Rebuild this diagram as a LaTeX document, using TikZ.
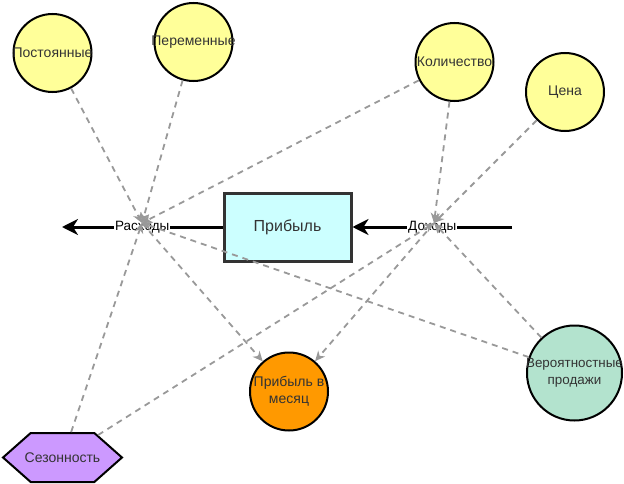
\documentclass[tikz,border=0pt]{standalone}
\usepackage{fontspec}
\setmainfont{Liberation Sans}
\usetikzlibrary{arrows.meta,shapes.symbols}
\definecolor{cyel}{HTML}{FFFF99}
\definecolor{ccyan}{HTML}{CCFFFF}
\definecolor{corange}{HTML}{FF9900}
\definecolor{cgreen}{HTML}{B3E3CE}
\definecolor{cpurple}{HTML}{CC99FF}
\definecolor{cgray}{HTML}{999999}
\definecolor{ctext}{HTML}{333333}
\begin{document}
\begin{tikzpicture}[x=1pt,y=-1pt,
  factor/.style={circle, draw=black, line width=2pt, fill=cyel, minimum size=78pt, inner sep=0pt, text=ctext, font=\fontsize{14}{17}\selectfont},
  dep/.style={draw=cgray, line width=1.8pt, dash pattern=on 6pt off 5pt, -{Stealth[length=10pt,width=9pt,inset=3pt]}},
  flow/.style={draw=black, line width=3pt, -{Stealth[length=16pt,width=16pt,inset=5pt]}},
  flowlbl/.style={fill=white, inner sep=1pt, text=black, font=\fontsize{13.5}{15}\selectfont}
]
\useasboundingbox (0,0) rectangle (624,484);

% factor nodes
\node[factor] (post) at (52.5,53) {\makebox[0pt]{Постоянные}};
\node[factor] (perem) at (193.5,42) {\makebox[0pt]{Переменные}};
\node[factor] (kol) at (454.5,62) {\makebox[0pt]{Количество}};
\node[factor] (cena) at (565,92) {\makebox[0pt]{Цена}};
\node[factor, fill=corange] (pm) at (289,391.5) {\makebox[0pt]{\begin{tabular}{@{}c@{}}Прибыль в\\месяц\end{tabular}}};
\node[factor, fill=cgreen, minimum size=95pt, font=\fontsize{13.4}{17}\selectfont] (ver) at (574.5,373) {\makebox[0pt]{\begin{tabular}{@{}c@{}}Вероятностные\\продажи\end{tabular}}};
\node[signal, signal to=east and west, signal pointer angle=83, draw=black, line width=2pt, fill=cpurple, minimum width=119pt, minimum height=49pt, inner sep=0pt, text=ctext, font=\fontsize{14}{16}\selectfont] (sez) at (62.5,457.5) {\makebox[0pt]{Сезонность}};

% main stock
\node[draw=ctext, line width=3pt, fill=ccyan, minimum width=127pt, minimum height=68pt, text=ctext, font=\fontsize{16}{19}\selectfont] (prib) at (287.5,227) {Прибыль};

\coordinate (lend) at (62,227);
\coordinate (rstart) at (512,227);
\coordinate (rc) at (142,223);
\coordinate (dc) at (434,223);

\draw[flow] (prib.west) -- node[flowlbl] (rl) {Расходы} (lend);
\draw[flow] (rstart) -- node[flowlbl] (dl) {Доходы} (prib.east);

% dependencies
\draw[dep] (post) -- (rc);
\draw[dep] (perem) -- (rc);
\draw[dep] (kol) -- (rc);
\draw[dep] (ver) -- (rc);
\draw[dep] (sez) -- (rc);
\draw[dep] (kol) -- (dc);
\draw[dep] (cena) -- (dc);
\draw[dep] (ver) -- (dc);
\draw[dep] (sez) -- (dc);
\draw[dep] (rc) -- (pm);
\draw[dep] (dc) -- (pm);
\end{tikzpicture}
\end{document}
